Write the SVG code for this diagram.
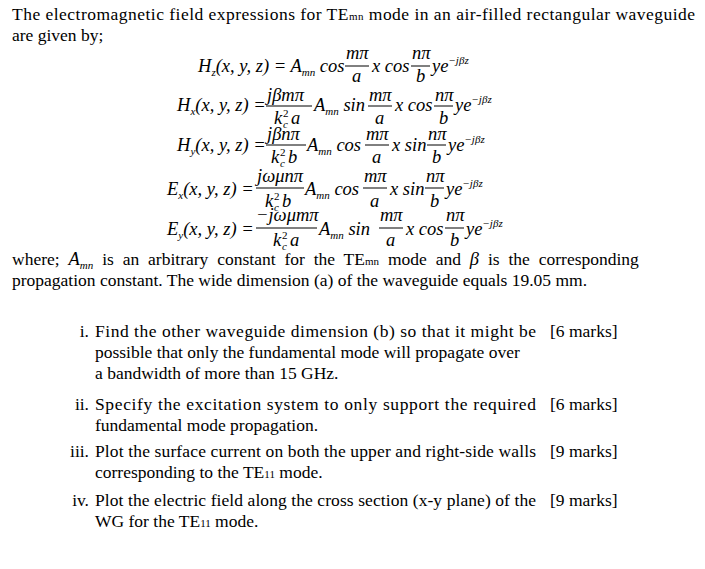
<svg xmlns="http://www.w3.org/2000/svg" width="705" height="569" viewBox="0 0 705 569">
<style>
text{font-family:"Liberation Serif",serif;font-size:17.5px;fill:#000}
.m{font-style:italic;font-size:18.5px}
.s{font-size:11px}
.k{font-style:italic;font-size:11px}
line{stroke:#000;stroke-width:1}
</style>
<rect width="705" height="569" fill="#fff"/>
<text x="12" y="20" textLength="683" lengthAdjust="spacing">The electromagnetic field expressions for TE<tspan class="s">mn</tspan> mode in an air-filled rectangular waveguide</text>
<text x="12" y="41">are given by;</text>
<g id="eqs">
<!-- Hz -->
<text class="m" x="198" y="72">H<tspan class="s" dy="4">z</tspan><tspan dy="-4">(x, y, z) = A</tspan><tspan class="s" dy="4">mn</tspan><tspan dy="-4"> cos</tspan></text>
<text class="m" x="346" y="59">mπ</text><line x1="345" y1="66" x2="369" y2="66"/><text class="m" x="352" y="82">a</text>
<text class="m" x="372" y="72">x cos</text>
<text class="m" x="412" y="59">nπ</text><line x1="411" y1="66" x2="430" y2="66"/><text class="m" x="416" y="82">b</text>
<text class="m" x="432" y="72">ye<tspan class="s" dy="-8">−jβz</tspan></text>
<!-- Hx -->
<text class="m" x="177" y="111">H<tspan class="s" dy="4">x</tspan><tspan dy="-4">(x, y, z) =</tspan></text>
<text class="m" x="267" y="101">jβmπ</text><line x1="266" y1="106" x2="312" y2="106"/>
<text class="m" x="274" y="124">k</text><text class="s" x="283" y="117">2</text><text class="k" x="283" y="128">c</text><text class="m" x="291" y="124">a</text>
<text class="m" x="314" y="111">A<tspan class="s" dy="4">mn</tspan><tspan dy="-4"> sin</tspan></text>
<text class="m" x="369" y="101">mπ</text><line x1="368" y1="106" x2="392" y2="106"/><text class="m" x="375" y="124">a</text>
<text class="m" x="395" y="111">x cos</text>
<text class="m" x="435" y="101">nπ</text><line x1="434" y1="106" x2="453" y2="106"/><text class="m" x="439" y="124">b</text>
<text class="m" x="455" y="111">ye<tspan class="s" dy="-8">−jβz</tspan></text>
<!-- Hy -->
<text class="m" x="177" y="151">H<tspan class="s" dy="4">y</tspan><tspan dy="-4">(x, y, z) =</tspan></text>
<text class="m" x="267" y="140">jβnπ</text><line x1="266" y1="145" x2="306" y2="145"/>
<text class="m" x="271" y="163">k</text><text class="s" x="280" y="156">2</text><text class="k" x="280" y="167">c</text><text class="m" x="288" y="163">b</text>
<text class="m" x="307" y="151">A<tspan class="s" dy="4">mn</tspan><tspan dy="-4"> cos</tspan></text>
<text class="m" x="366" y="140">mπ</text><line x1="365" y1="145" x2="389" y2="145"/><text class="m" x="372" y="163">a</text>
<text class="m" x="392" y="151">x sin</text>
<text class="m" x="428" y="140">nπ</text><line x1="427" y1="145" x2="446" y2="145"/><text class="m" x="432" y="163">b</text>
<text class="m" x="448" y="151">ye<tspan class="s" dy="-8">−jβz</tspan></text>
<!-- Ex -->
<text class="m" x="167" y="195">E<tspan class="s" dy="4">x</tspan><tspan dy="-4">(x, y, z) =</tspan></text>
<text class="m" x="257" y="182">jωμnπ</text><line x1="256" y1="188" x2="304" y2="188"/>
<text class="m" x="265" y="207">k</text><text class="s" x="274" y="200">2</text><text class="k" x="274" y="211">c</text><text class="m" x="282" y="207">b</text>
<text class="m" x="305" y="195">A<tspan class="s" dy="4">mn</tspan><tspan dy="-4"> cos</tspan></text>
<text class="m" x="364" y="182">mπ</text><line x1="363" y1="188" x2="387" y2="188"/><text class="m" x="370" y="207">a</text>
<text class="m" x="390" y="195">x sin</text>
<text class="m" x="426" y="182">nπ</text><line x1="425" y1="188" x2="444" y2="188"/><text class="m" x="430" y="207">b</text>
<text class="m" x="446" y="195">ye<tspan class="s" dy="-8">−jβz</tspan></text>
<!-- Ey -->
<text class="m" x="167" y="235">E<tspan class="s" dy="4">y</tspan><tspan dy="-4">(x, y, z) =</tspan></text>
<text class="m" x="256" y="221">−jωμmπ</text><line x1="256" y1="228" x2="317" y2="228"/>
<text class="m" x="273" y="246">k</text><text class="s" x="282" y="239">2</text><text class="k" x="282" y="250">c</text><text class="m" x="290" y="246">a</text>
<text class="m" x="319" y="235">A<tspan class="s" dy="4">mn</tspan><tspan dy="-4"> sin</tspan></text>
<text class="m" x="380" y="221">mπ</text><line x1="379" y1="228" x2="403" y2="228"/><text class="m" x="386" y="246">a</text>
<text class="m" x="406" y="235">x cos</text>
<text class="m" x="446" y="221">nπ</text><line x1="445" y1="228" x2="464" y2="228"/><text class="m" x="450" y="246">b</text>
<text class="m" x="466" y="235">ye<tspan class="s" dy="-8">−jβz</tspan></text>
</g>
<text x="12" y="265" word-spacing="4.5">where; <tspan class="m">A</tspan><tspan class="k" dy="4">mn</tspan><tspan dy="-4"> is an arbitrary constant for the TE</tspan><tspan class="s">mn</tspan> mode and <tspan class="m">β</tspan> is the corresponding</text>
<text x="12" y="286">propagation constant. The wide dimension (a) of the waveguide equals 19.05 mm.</text>
<g id="questions">
<text x="89" y="337" text-anchor="end">i.</text>
<text x="95" y="337" textLength="441" lengthAdjust="spacing">Find the other waveguide dimension (b) so that it might be</text>
<text x="95" y="358">possible that only the fundamental mode will propagate over</text>
<text x="95" y="379">a bandwidth of more than 15 GHz.</text>
<text x="550" y="337">[6 marks]</text>
<text x="89" y="410" text-anchor="end">ii.</text>
<text x="95" y="410" textLength="441" lengthAdjust="spacing">Specify the excitation system to only support the required</text>
<text x="95" y="431">fundamental mode propagation.</text>
<text x="550" y="410">[6 marks]</text>
<text x="89" y="457" text-anchor="end">iii.</text>
<text x="95" y="457" textLength="441" lengthAdjust="spacing">Plot the surface current on both the upper and right-side walls</text>
<text x="95" y="478">corresponding to the TE<tspan class="s">11</tspan> mode.</text>
<text x="550" y="457">[9 marks]</text>
<text x="89" y="506" text-anchor="end">iv.</text>
<text x="95" y="506" textLength="441" lengthAdjust="spacing">Plot the electric field along the cross section (x-y plane) of the</text>
<text x="95" y="527">WG for the TE<tspan class="s">11</tspan> mode.</text>
<text x="550" y="506">[9 marks]</text>
</g>
</svg>
